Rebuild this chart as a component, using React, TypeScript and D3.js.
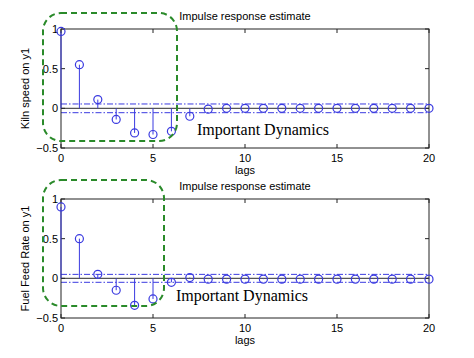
import * as d3 from 'd3';
import React from 'react';

// lags shown on the x axis
const lags = [0, 1, 2, 3, 4, 5, 6, 7, 8, 9, 10, 11, 12, 13, 14, 15, 16, 17, 18, 19, 20];
const xTicks = [0, 5, 10, 15, 20];
const yTicks = [-0.5, 0, 0.5, 1];

// impulse response estimates
const kilnSpeed = [0.97, 0.55, 0.11, -0.14, -0.31, -0.33, -0.29, -0.1, -0.01, 0.0, 0.0, 0.0, 0.0, 0.0, 0.0, 0.0, 0.0, 0.0, 0.0, 0.0, 0.0];
const fuelFeed = [0.9, 0.5, 0.05, -0.15, -0.34, -0.26, -0.05, 0.01, -0.01, -0.01, -0.01, -0.01, -0.01, -0.01, -0.01, -0.01, -0.01, -0.01, -0.01, -0.01, -0.01];
// confidence band (+/-)
const kilnConf = 0.055;
const fuelConf = 0.05;

const titles = ['Impulse response estimate', 'Impulse response estimate'];
const yLabels = ['Kiln speed on y1', 'Fuel Feed Rate on y1'];
const note = 'Important Dynamics';

const W = 474;
const H = 358;
const sans = '"Liberation Sans", Arial, sans-serif';
const blue = '#3a3ae0';

const Panel = ({ top, values, conf, title, yLabel, box, notePos }) => {
    const x = d3.scaleLinear().domain([0, 20]).range([61, 429]);
    const y = d3.scaleLinear().domain([-0.5, 1]).range([top + 119, top]);
    const x0 = x(0), x1 = x(20), yT = y(1), yB = y(-0.5);
    return (
        <g>
            <text x={245} y={top - 9} textAnchor="middle" fontSize={11} fontFamily={sans}>{title}</text>
            {/* zero line */}
            <line x1={x0} x2={x1} y1={y(0)} y2={y(0)} stroke="#555" strokeWidth={1.2} />
            {/* confidence lines */}
            {[conf, -conf].map((c, i) => (
                <line key={i} x1={x0} x2={x1} y1={y(c)} y2={y(c)} stroke={blue} strokeWidth={1}
                    strokeDasharray="6,2,1.5,2" />
            ))}
            {/* axes box */}
            <rect x={x0} y={yT} width={x1 - x0} height={yB - yT} fill="none" stroke="#222" strokeWidth={1} />
            {xTicks.map((t) => (
                <g key={t}>
                    <line x1={x(t)} x2={x(t)} y1={yB} y2={yB - 4} stroke="#222" />
                    <line x1={x(t)} x2={x(t)} y1={yT} y2={yT + 4} stroke="#222" />
                    <text x={x(t)} y={yB + 14} textAnchor="middle" fontSize={11} fontFamily={sans}>{t}</text>
                </g>
            ))}
            {yTicks.map((t) => (
                <g key={t}>
                    <line x1={x0} x2={x0 + 4} y1={y(t)} y2={y(t)} stroke="#222" />
                    <line x1={x1} x2={x1 - 4} y1={y(t)} y2={y(t)} stroke="#222" />
                    <text x={x0 - 3} y={y(t) + 4} textAnchor="end" fontSize={11} fontFamily={sans}>
                        {t < 0 ? '\u2212' + Math.abs(t) : t}
                    </text>
                </g>
            ))}
            <text x={245} y={yB + 26} textAnchor="middle" fontSize={11} fontFamily={sans}>lags</text>
            <text transform={`translate(29, ${(yT + yB) / 2}) rotate(-90)`} textAnchor="middle" fontSize={11}
                fontFamily={sans}>{yLabel}</text>
            {/* stems */}
            {lags.map((l, i) => (
                <g key={l}>
                    <line x1={x(l)} x2={x(l)} y1={y(0)} y2={y(values[i])} stroke={blue} strokeWidth={1} />
                    <circle cx={x(l)} cy={y(values[i])} r={4} fill="none" stroke={blue} strokeWidth={1.2} />
                </g>
            ))}
            {/* highlight */}
            <rect x={box[0]} y={box[1]} width={box[2] - box[0]} height={box[3] - box[1]} rx={18} ry={18}
                fill="none" stroke="#2a8a2a" strokeWidth={2} strokeDasharray="6,4" />
            <text x={notePos[0]} y={notePos[1]} fontSize={16} fontFamily='"Liberation Serif", "Times New Roman", serif'>{note}</text>
        </g>
    );
};

export default function App() {
    return (
        <svg width={W} height={H} style={{ position: 'absolute', left: 0, top: 0, background: '#fff' }}>
            <Panel top={29} values={kilnSpeed} conf={kilnConf} title={titles[0]} yLabel={yLabels[0]}
                box={[43, 13, 177, 141]} notePos={[197, 135]} />
            <Panel top={199} values={fuelFeed} conf={fuelConf} title={titles[1]} yLabel={yLabels[1]}
                box={[43, 180, 164, 306]} notePos={[176, 301]} />
        </svg>
    );
}
